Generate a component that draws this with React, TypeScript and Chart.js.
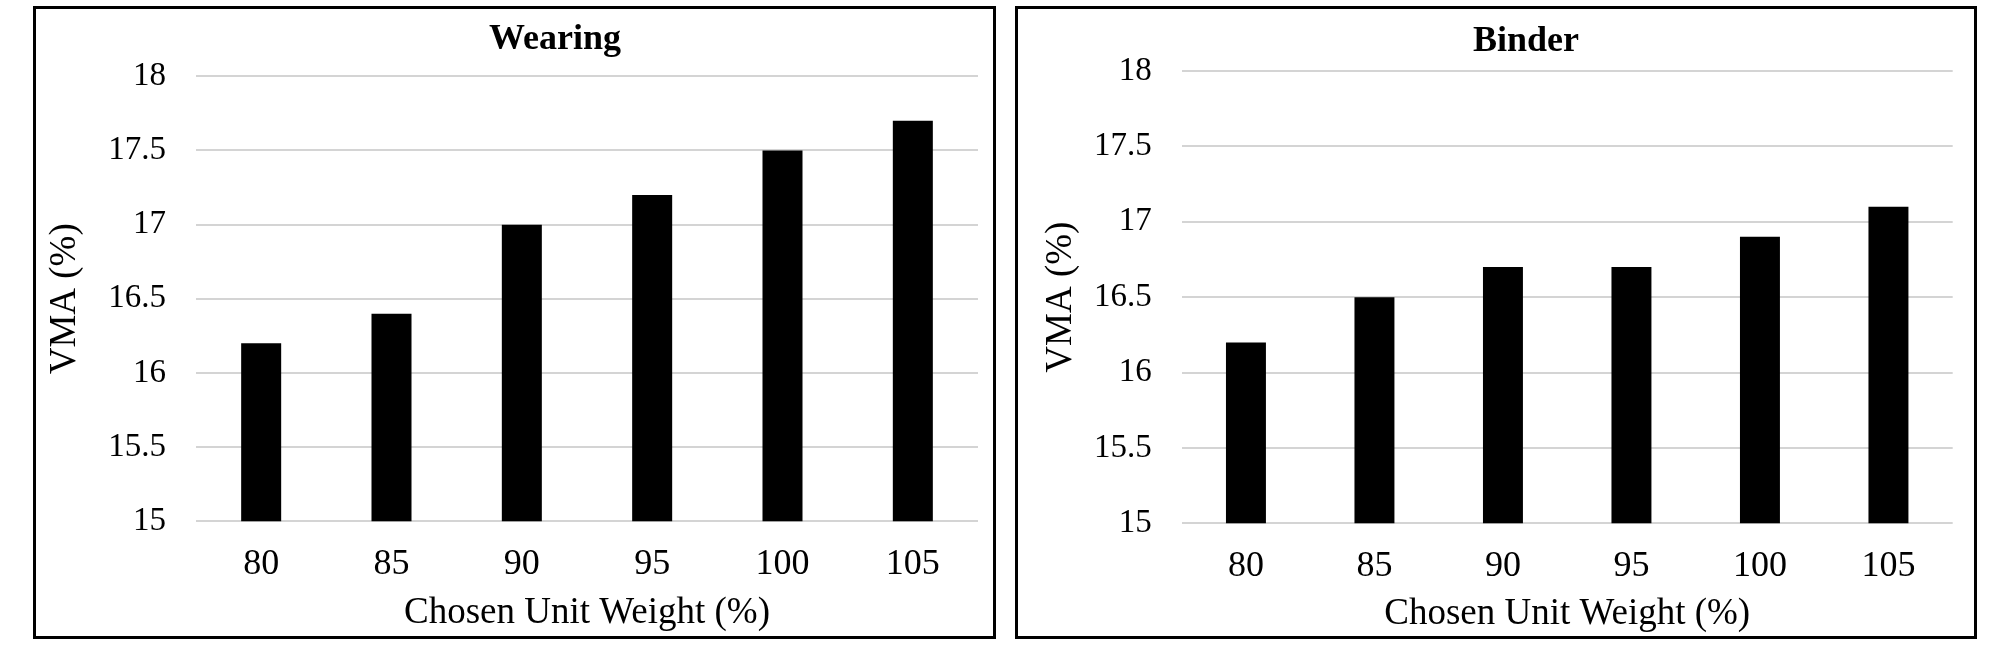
import React, { useEffect, useRef } from "react";
import { Chart, registerables } from "chart.js";

Chart.register(...registerables);

// ---- data ----
const categories = ["80", "85", "90", "95", "100", "105"];
const wearingValues = [16.2, 16.4, 17.0, 17.2, 17.5, 17.7];
const binderValues = [16.2, 16.5, 16.7, 16.7, 16.9, 17.1];
const yMin = 15;
const yMax = 18;
const yStep = 0.5;
const yAxisTitle = "VMA (%)";
const xAxisTitle = "Chosen Unit Weight (%)";
const wearingTitle = "Wearing";
const binderTitle = "Binder";

const FONT = "'Liberation Serif', 'Times New Roman', serif";

type PanelCfg = {
  title: string;
  values: number[];
  panel: { left: number; top: number; width: number; height: number };
  canvasWidth: number;
  canvasHeight: number;
  rightGap: number;
  yAxisWidth: number;
  xAxisHeight: number;
  titlePadTop: number;
  titlePadBottom: number;
  yTitlePadTop: number;
  xTitlePadBottom: number;
  barPct: number;
};

const panels: PanelCfg[] = [
  {
    title: wearingTitle,
    values: wearingValues,
    panel: { left: 33, top: 6, width: 963, height: 633 },
    canvasWidth: 1038,
    canvasHeight: 627,
    rightGap: 96,
    yAxisWidth: 160,
    xAxisHeight: 114.7,
    titlePadTop: 9.1,
    titlePadBottom: 15,
    yTitlePadTop: 6.8,
    xTitlePadBottom: 1,
    barPct: 0.307,
  },
  {
    title: binderTitle,
    values: binderValues,
    panel: { left: 1015, top: 6, width: 962, height: 633 },
    canvasWidth: 1016,
    canvasHeight: 627,
    rightGap: 81.3,
    yAxisWidth: 163.7,
    xAxisHeight: 112.7,
    titlePadTop: 11.4,
    titlePadBottom: 7.4,
    yTitlePadTop: 20.8,
    xTitlePadBottom: 0,
    barPct: 0.311,
  },
];

function Panel({ cfg }: { cfg: PanelCfg }) {
  const ref = useRef<HTMLCanvasElement>(null);
  useEffect(() => {
    const chart = new Chart(ref.current as HTMLCanvasElement, {
      type: "bar",
      data: {
        labels: categories,
        datasets: [
          {
            data: cfg.values,
            backgroundColor: "#000000",
            borderWidth: 0,
            barPercentage: cfg.barPct,
            categoryPercentage: 1,
          },
        ],
      },
      options: {
        animation: false,
        responsive: false,
        layout: { padding: 0 },
        plugins: {
          legend: { display: false },
          tooltip: { enabled: false },
          title: {
            display: true,
            text: cfg.title,
            color: "#000000",
            font: { family: FONT, size: 36, weight: "bold", lineHeight: 1.2 },
            padding: { top: cfg.titlePadTop, bottom: cfg.titlePadBottom },
          },
        },
        scales: {
          x: {
            grid: { display: false, drawTicks: false },
            border: { display: false },
            ticks: {
              color: "#000000",
              font: { family: FONT, size: 36, lineHeight: 1.2 },
              padding: 22,
              maxRotation: 0,
              autoSkip: false,
            },
            title: {
              display: true,
              text: xAxisTitle,
              color: "#000000",
              font: { family: FONT, size: 37, lineHeight: 1.2 },
              padding: { top: 0, bottom: cfg.xTitlePadBottom },
            },
            afterFit: (s: any) => {
              s.height = cfg.xAxisHeight;
            },
          },
          y: {
            min: yMin,
            max: yMax,
            grid: { color: "#d4d4d4", lineWidth: 2, drawTicks: false },
            border: { display: false },
            ticks: {
              stepSize: yStep,
              color: "#000000",
              font: { family: FONT, size: 33, lineHeight: 1.2 },
              padding: 30,
              callback: (v: any) => String(Number(v)),
            },
            title: {
              display: true,
              text: yAxisTitle,
              color: "#000000",
              font: { family: FONT, size: 37, lineHeight: 1.2 },
              padding: { top: cfg.yTitlePadTop, bottom: 0 },
            },
            afterFit: (s: any) => {
              s.width = cfg.yAxisWidth;
            },
          },
          spacer: {
            type: "linear",
            position: "right",
            display: true,
            grid: { display: false, drawTicks: false },
            border: { display: false },
            ticks: { display: false },
            afterFit: (s: any) => {
              s.width = cfg.rightGap;
            },
          },
        },
      } as any,
    });
    return () => chart.destroy();
  }, []);

  const p = cfg.panel;
  return (
    <div
      style={{
        position: "absolute",
        left: p.left,
        top: p.top,
        width: p.width,
        height: p.height,
        border: "3px solid #000",
        boxSizing: "border-box",
        overflow: "hidden",
        background: "#fff",
      }}
    >
      <canvas
        ref={ref}
        width={cfg.canvasWidth}
        height={cfg.canvasHeight}
        style={{ position: "absolute", left: 0, top: 0 }}
      />
    </div>
  );
}

export default function App() {
  return (
    <div
      style={{
        position: "absolute",
        left: 0,
        top: 0,
        width: 1992,
        height: 647,
        background: "#fff",
        overflow: "hidden",
      }}
    >
      {panels.map((cfg, i) => (
        <Panel key={i} cfg={cfg} />
      ))}
    </div>
  );
}
